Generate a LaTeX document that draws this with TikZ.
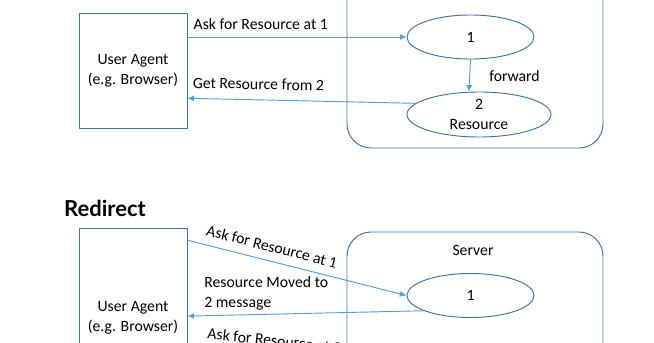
\documentclass[tikz,border=0pt]{standalone}
\usepackage{fontspec}
\setmainfont{Carlito}
\newfontfamily\headfont{Lato}
\usetikzlibrary{arrows.meta,shapes.geometric}
\definecolor{boxblue}{HTML}{41719C}
\definecolor{arrowblue}{HTML}{5B9BD5}

\begin{document}
\begin{tikzpicture}[x=0.75pt,y=-0.75pt,line cap=round,line join=round,
  every node/.style={font=\fontsize{11.8}{15}\selectfont},
  agent/.style={draw=boxblue,line width=0.7pt,minimum width=81pt,align=center,inner sep=0pt},
  server/.style={draw=boxblue,line width=0.7pt,rounded corners=18pt},
  place/.style={draw=boxblue,line width=0.7pt,ellipse,inner sep=0pt,align=center},
  flow/.style={draw=arrowblue,line width=0.7pt,-{Latex[length=5pt,width=4.5pt]}}]
  \useasboundingbox (0,0) rectangle (654,343);
  % forward (server side)
  \draw[server] (347,-60) rectangle (603,148);
  \node[agent,minimum height=86.25pt] (ua1) at (133,70.5) {User Agent\\(e.g. Browser)};
  \node[place,minimum width=95.25pt,minimum height=33pt] (r1) at (470.5,37) {1};
  \node[place,minimum width=108pt,minimum height=33.75pt] (r2) at (479,114.5) {2\\Resource};
  \draw[flow] (ua1.east |- r1.west) -- (r1.west)
    node[pos=0,anchor=south west,xshift=1pt,yshift=2pt] {Ask for Resource at 1};
  \draw[flow] (r1.south) -- (r2.114) node[midway,right=11pt] {forward};
  \draw[flow] (r2.170) -- (ua1.-27) node[pos=0.69,sloped,above=4pt] {Get Resource from 2};
  % redirect
  \node[font=\headfont\bfseries\fontsize{16.5}{18}\selectfont] (title) at (105,208) {Redirect};
  \draw[server] (347,232) rectangle (603,420);
  \node (srv) at (473,250) {Server};
  \node[agent,minimum height=135pt] (ua2) at (133,318) {User Agent\\(e.g. Browser)};
  \node[place,minimum width=95.25pt,minimum height=33pt] (r3) at (470.5,295.5) {1};
  \draw[flow] (ua2.55.3) -- (r3.west) node[pos=0.37,sloped,above=3pt] {Ask for Resource at 1};
  \draw[flow] (r3.-162) -- (ua2.2)
    node[pos=1,anchor=south west,align=left,xshift=9pt,yshift=1pt] {Resource Moved to\\2 message};
  \node[rotate=-6,anchor=west] (ask2) at (203,333) {Ask for Resource at 2};
\end{tikzpicture}
\end{document}
